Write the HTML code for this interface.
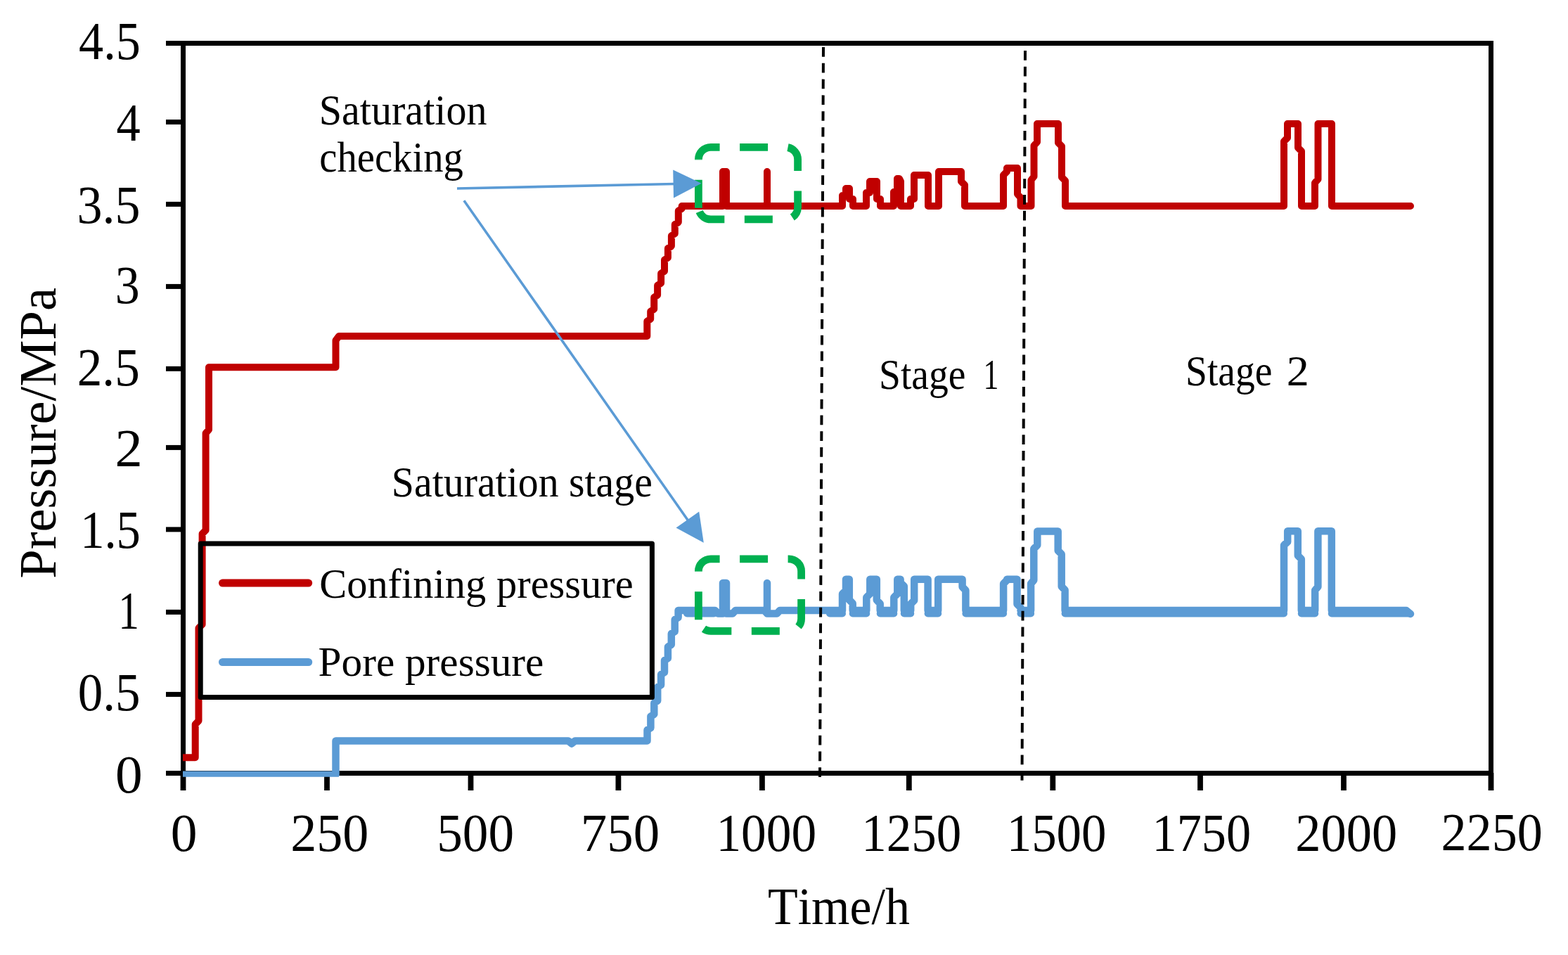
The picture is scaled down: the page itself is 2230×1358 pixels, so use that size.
<!DOCTYPE html><html><head><meta charset="utf-8"><title>Pressure vs Time</title><style>html,body{margin:0;padding:0;background:#fff;overflow:hidden}svg{display:block}</style></head><body><svg width="2230" height="1358" viewBox="0 0 2230 1358">
<rect width="2230" height="1358" fill="#fff"/>
<g fill="#000">
<rect x="236" y="58" width="1888" height="7"/>
<rect x="236" y="1096" width="1888" height="7"/>
<rect x="257" y="58" width="7" height="1066"/>
<rect x="2117" y="58" width="7" height="1066"/>
<rect x="236" y="58.0" width="24" height="7"/>
<rect x="236" y="170.0" width="24" height="7"/>
<rect x="236" y="286.9" width="24" height="7"/>
<rect x="236" y="403.9" width="24" height="7"/>
<rect x="236" y="520.9" width="24" height="7"/>
<rect x="236" y="632.9" width="24" height="7"/>
<rect x="236" y="749.4" width="24" height="7"/>
<rect x="236" y="866.9" width="24" height="7"/>
<rect x="236" y="983.9" width="24" height="7"/>
<rect x="236" y="1096.0" width="24" height="7"/>
<rect x="256.6" y="1099" width="7.8" height="25"/>
<rect x="461.1" y="1099" width="7.8" height="25"/>
<rect x="665.6" y="1099" width="7.8" height="25"/>
<rect x="875.5" y="1099" width="7.8" height="25"/>
<rect x="1080.0" y="1099" width="7.8" height="25"/>
<rect x="1288.9" y="1099" width="7.8" height="25"/>
<rect x="1493.4" y="1099" width="7.8" height="25"/>
<rect x="1703.1" y="1099" width="7.8" height="25"/>
<rect x="1907.1" y="1099" width="7.8" height="25"/>
<rect x="2116.6" y="1099" width="7.8" height="25"/>
</g>
<defs><clipPath id="pa"><rect x="260" y="58" width="1864" height="1046.7"/></clipPath></defs>
<g fill="none" stroke-linejoin="round" stroke-linecap="round" clip-path="url(#pa)">
<polyline points="250.0,1077.3 277.7,1077.3 277.7,1030.0 282.5,1025.0 282.5,893.0 287.6,888.0 287.6,759.0 292.6,754.0 292.6,616.0 297.0,611.0 297.0,522.3 477.5,522.3 477.5,484.0 482.0,478.0 920.3,478.0 920.3,456.7 925.2,453.7 925.2,442.8 930.2,439.8 930.2,422.7 935.1,419.7 935.1,405.7 940.1,402.7 940.1,388.7 945.0,385.7 945.0,369.4 949.9,366.4 949.9,353.1 954.9,350.1 954.9,335.3 959.8,332.3 959.8,319.1 964.8,316.1 964.8,299.8 969.7,296.8 969.7,293.0 1028.0,293.0 1028.0,244.0 1033.0,244.0 1033.0,293.0 1091.0,293.0 1091.0,244.0 1091.0,293.0 1198.0,293.0 1198.0,278.0 1203.0,278.0 1203.0,268.0 1208.0,268.0 1208.0,283.0 1213.0,283.0 1213.0,293.0 1232.0,293.0 1232.0,274.0 1237.0,274.0 1237.0,258.0 1247.0,258.0 1247.0,283.0 1252.0,283.0 1252.0,293.0 1271.0,293.0 1271.0,273.0 1276.0,273.0 1276.0,254.0 1279.0,254.0 1281.0,258.0 1281.0,293.0 1295.0,293.0 1295.0,283.0 1300.0,283.0 1300.0,249.0 1320.0,249.0 1320.0,293.0 1335.0,293.0 1335.0,244.0 1367.0,244.0 1367.0,258.0 1372.0,263.0 1372.0,293.0 1427.0,293.0 1427.0,249.0 1432.0,244.0 1432.0,239.0 1447.0,239.0 1447.0,276.0 1451.5,281.0 1451.5,293.0 1466.5,293.0 1466.5,256.0 1470.5,251.0 1470.5,207.0 1475.0,202.0 1475.0,176.0 1505.0,176.0 1505.0,203.0 1510.0,208.0 1510.0,252.0 1515.0,257.0 1515.0,293.0 1826.0,293.0 1826.0,201.0 1831.0,196.0 1831.0,176.0 1846.0,176.0 1846.0,210.0 1851.0,215.0 1851.0,293.0 1870.0,293.0 1870.0,260.0 1874.5,255.0 1874.5,176.0 1894.0,176.0 1894.0,293.0 2006.0,293.0" stroke="#C00000" stroke-width="10"/>
<line x1="977" y1="872.5" x2="1015" y2="872.5" stroke="#5B9BD5" stroke-width="10"/>
<line x1="1180" y1="872.5" x2="1198" y2="872.5" stroke="#5B9BD5" stroke-width="10"/>
<line x1="1212.7" y1="872.5" x2="1232.3" y2="872.5" stroke="#5B9BD5" stroke-width="10"/>
<line x1="1251.7" y1="872.5" x2="1271.3" y2="872.5" stroke="#5B9BD5" stroke-width="10"/>
<line x1="1285.8" y1="872.5" x2="1295.2" y2="872.5" stroke="#5B9BD5" stroke-width="10"/>
<line x1="1319.6" y1="872.5" x2="1334.2" y2="872.5" stroke="#5B9BD5" stroke-width="10"/>
<line x1="1373.4" y1="872.5" x2="1427.1" y2="872.5" stroke="#5B9BD5" stroke-width="10"/>
<line x1="1451.5" y1="872.5" x2="1466.1" y2="872.5" stroke="#5B9BD5" stroke-width="10"/>
<line x1="1514.6" y1="872.5" x2="1826" y2="872.5" stroke="#5B9BD5" stroke-width="10"/>
<line x1="1850.8" y1="872.5" x2="1870.2" y2="872.5" stroke="#5B9BD5" stroke-width="10"/>
<line x1="1893.8" y1="872.5" x2="2003" y2="872.5" stroke="#5B9BD5" stroke-width="10"/>
<polyline points="250.0,1101.8 477.5,1101.8 477.5,1053.5 808.0,1053.4 813.0,1057.5 818.0,1053.4 920.5,1053.4 920.5,1038.0 925.4,1035.0 925.4,1018.7 930.3,1015.7 930.3,999.4 935.2,996.4 935.2,976.9 940.1,973.9 940.1,959.1 945.0,956.1 945.0,939.0 949.9,936.0 949.9,919.7 954.8,916.7 954.8,901.1 959.7,898.1 959.7,881.0 964.6,878.0 964.6,868.0 1017.0,868.0 1021.0,872.5 1028.0,872.5 1028.0,829.0 1033.0,829.0 1033.0,872.5 1042.0,872.5 1046.0,868.0 1087.0,868.0 1091.0,872.5 1091.0,829.0 1091.0,872.5 1105.0,872.5 1109.0,868.0 1198.0,868.0 1198.0,844.5 1203.0,839.5 1203.0,823.7 1207.8,823.7 1207.8,853.0 1212.7,858.0 1212.7,868.0 1232.3,868.0 1232.3,849.4 1237.3,844.4 1237.3,823.7 1246.8,823.7 1246.8,853.3 1251.7,858.3 1251.7,868.0 1271.3,868.0 1271.3,849.4 1276.3,844.4 1276.3,823.7 1280.6,823.7 1280.6,828.6 1285.8,833.6 1285.8,868.0 1295.2,868.0 1295.2,858.8 1300.2,853.8 1300.2,823.7 1319.6,823.7 1319.6,868.0 1334.2,868.0 1334.2,823.7 1368.6,823.7 1368.6,834.5 1373.4,839.5 1373.4,868.0 1427.1,868.0 1427.1,830.0 1432.1,825.0 1432.1,823.7 1446.5,823.7 1446.5,859.0 1451.5,864.0 1451.5,868.0 1466.1,868.0 1466.1,830.0 1470.3,825.0 1470.3,780.3 1475.3,775.3 1475.3,755.5 1504.7,755.5 1504.7,783.0 1509.7,788.0 1509.7,834.0 1514.6,839.0 1514.6,868.0 1826.0,868.0 1826.0,775.4 1831.2,770.4 1831.2,755.2 1845.8,755.2 1845.8,790.0 1850.8,795.0 1850.8,868.0 1870.2,868.0 1870.2,839.4 1874.4,834.4 1874.4,755.2 1893.8,755.2 1893.8,868.0 2000.0,868.0 2006.0,873.0" stroke="#5B9BD5" stroke-width="10.5"/>
</g>
<rect x="285.2" y="773" width="642.2" height="218.6" fill="none" stroke="#000" stroke-width="7" stroke-linejoin="round"/>
<line x1="316.5" y1="829.1" x2="438.7" y2="829.1" stroke="#C00000" stroke-width="11" stroke-linecap="round"/>
<line x1="316.5" y1="941.5" x2="438.7" y2="941.5" stroke="#5B9BD5" stroke-width="11" stroke-linecap="round"/>
<g font-family="Liberation Serif, Times New Roman, serif" fill="#000" style="font-variant-ligatures:none;font-kerning:none">
<text transform="translate(112.08,83.80) scale(0.9231,1)" font-size="76">4.5</text>
<text transform="translate(165.50,200.30) scale(0.9000,1)" font-size="76">4</text>
<text transform="translate(109.61,316.50) scale(0.9477,1)" font-size="76">3.5</text>
<text transform="translate(163.72,430.70) scale(0.9194,1)" font-size="76">3</text>
<text transform="translate(109.79,548.30) scale(0.9360,1)" font-size="76">2.5</text>
<text transform="translate(163.60,662.80) scale(1.0323,1)" font-size="76">2</text>
<text transform="translate(114.18,779.30) scale(0.9024,1)" font-size="76">1.5</text>
<text transform="translate(168.33,894.10) scale(0.7808,1)" font-size="76">1</text>
<text transform="translate(110.80,1009.80) scale(0.9348,1)" font-size="76">0.5</text>
<text transform="translate(163.94,1126.50) scale(1.0187,1)" font-size="76">0</text>
<text transform="translate(242.72,1209.60) scale(0.9938,1)" font-size="76">0</text>
<text transform="translate(413.17,1209.60) scale(0.9759,1)" font-size="76">250</text>
<text transform="translate(621.25,1209.60) scale(0.9636,1)" font-size="76">500</text>
<text transform="translate(825.77,1209.60) scale(0.9858,1)" font-size="76">750</text>
<text transform="translate(1018.42,1209.60) scale(0.9394,1)" font-size="76">1000</text>
<text transform="translate(1225.16,1209.60) scale(0.9345,1)" font-size="76">1250</text>
<text transform="translate(1431.66,1209.60) scale(0.9338,1)" font-size="76">1500</text>
<text transform="translate(1638.53,1209.60) scale(0.9246,1)" font-size="76">1750</text>
<text transform="translate(1842.34,1209.60) scale(0.9534,1)" font-size="76">2000</text>
<text transform="translate(2049.55,1209.30) scale(0.9486,1)" font-size="76">2250</text>
<text transform="translate(1091.95,1313.80) scale(0.9488,1)" font-size="73.7">Time/h</text>
<text transform="translate(453.79,176.50) scale(0.9520,1)" font-size="61">Saturation</text>
<text transform="translate(454.24,244.30) scale(0.9300,1)" font-size="61">checking</text>
<text transform="translate(556.81,705.50) scale(0.9483,1)" font-size="61">Saturation stage</text>
<text transform="translate(454.13,849.90) scale(0.9831,1)" font-size="59.5">Confining pressure</text>
<text transform="translate(452.61,961.10) scale(0.9959,1)" font-size="59.5">Pore pressure</text>
<text transform="translate(1250.06,552.60) scale(0.9101,1)" font-size="61">Stage</text>
<text transform="translate(1398.61,552.60) scale(0.7182,1)" font-size="61">1</text>
<text transform="translate(1686.06,547.70) scale(0.9101,1)" font-size="61">Stage</text>
<text transform="translate(1829.65,547.70) scale(1.0500,1)" font-size="61">2</text>
<text transform="translate(78.50,822.64) rotate(-90) scale(1.0201,1)" font-size="73">Pressure/MPa</text>
</g>
<g stroke="#000" stroke-width="4" stroke-dasharray="13.7 9.06" fill="none">
<line x1="1171" y1="67.1" x2="1166" y2="1104.9"/>
<line x1="1458" y1="72.1" x2="1453.5" y2="1109.7"/>
</g>
<g fill="none" stroke="#00B050" stroke-width="10.8" stroke-dasharray="40 28.5">
<path d="M993.4,226.8 A17.5,17.5 0 0 1 1010.9,209.3 L1117.1,209.3 A17.5,17.5 0 0 1 1134.6,226.8 L1134.6,294.4 A17.5,17.5 0 0 1 1117.1,311.9 L1010.9,311.9 A17.5,17.5 0 0 1 993.4,294.4"/>
<path d="M993.4,295.7 L993.4,226.8"/>
<path d="M993.4,812.3 A17.5,17.5 0 0 1 1010.9,794.8 L1122.1,794.8 A17.5,17.5 0 0 1 1139.6,812.3 L1139.6,879.9 A17.5,17.5 0 0 1 1122.1,897.4 L1010.9,897.4 A17.5,17.5 0 0 1 993.4,879.9"/>
<path d="M993.4,881.1999999999999 L993.4,812.3"/>
</g>
<line x1="650" y1="268" x2="959.6" y2="261.5" stroke="#5B9BD5" stroke-width="3.6"/><polygon points="997.6,260.7 958.0,281.5 957.2,241.5" fill="#5B9BD5"/>
<line x1="659.9" y1="285.3" x2="979.0" y2="740.7" stroke="#5B9BD5" stroke-width="3.6"/><polygon points="1000.8,771.8 961.5,750.5 994.2,727.6" fill="#5B9BD5"/>
</svg></body></html>
